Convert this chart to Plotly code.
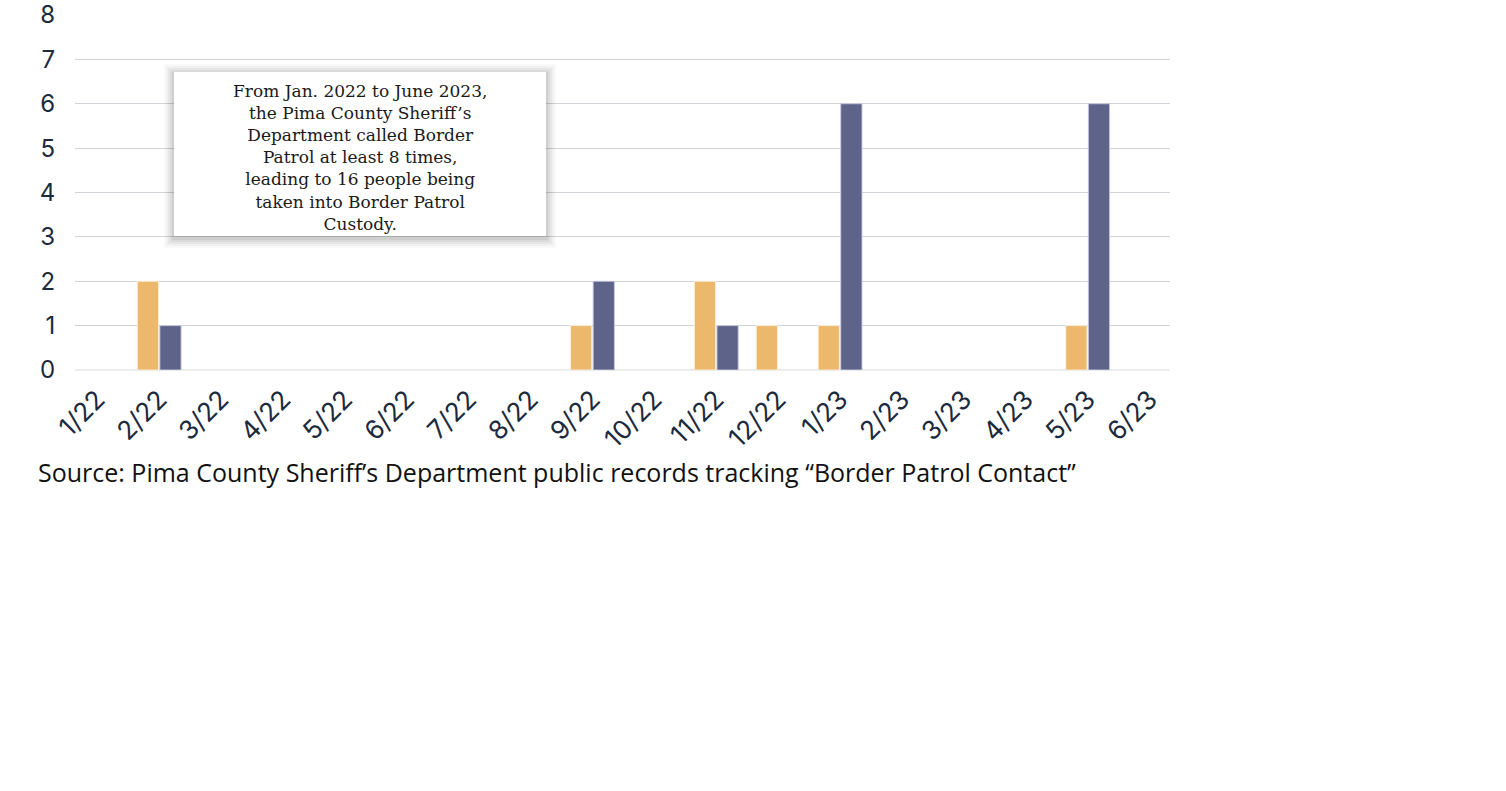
import plotly.graph_objects as go

months = ["1/22", "2/22", "3/22", "4/22", "5/22", "6/22", "7/22", "8/22", "9/22",
          "10/22", "11/22", "12/22", "1/23", "2/23", "3/23", "4/23", "5/23", "6/23"]
calls = [None, 2, None, None, None, None, None, None, 1,
         None, 2, 1, 1, None, None, None, 1, None]
people = [None, 1, None, None, None, None, None, None, 2,
          None, 1, None, 6, None, None, None, 6, None]
y_ticks = [0, 1, 2, 3, 4, 5, 6, 7, 8]

note_lines = [
    "From Jan. 2022 to June 2023,",
    "the Pima County Sheriff’s",
    "Department called Border",
    "Patrol at least 8 times,",
    "leading to 16 people being",
    "taken into Border Patrol",
    "Custody.",
]
source_text = "Source: Pima County Sheriff’s Department public records tracking “Border Patrol Contact”"

W, H = 1506, 791
L, R, T, B = 75, 336, 15, 421
pw, ph = W - L - R, H - T - B


def px_x(x):
    return (x - L) / pw


def px_y(y):
    return 1 - (y - T) / ph


fig = go.Figure()
fig.add_trace(go.Bar(x=months, y=calls, name="Calls",
                     marker=dict(color="#ECB86C", line=dict(color="rgba(255,240,220,0.9)", width=1))))
fig.add_trace(go.Bar(x=months, y=people, name="People",
                     marker=dict(color="#5E6389", line=dict(color="rgba(200,200,225,0.9)", width=1))))

# annotation box with soft shadow
bx0, bx1, by0, by1 = 174, 546, 72, 236
for i, a in enumerate([0.025, 0.03, 0.04, 0.05, 0.06]):
    d = 10 - 2 * i
    fig.add_shape(type="rect", xref="paper", yref="paper",
                  x0=px_x(bx0 - d), x1=px_x(bx1 + d), y0=px_y(by1 + d + 2), y1=px_y(by0 - d + 2),
                  fillcolor=f"rgba(0,0,0,{a})", line=dict(width=0), layer="above")
fig.add_shape(type="rect", xref="paper", yref="paper",
              x0=px_x(bx0), x1=px_x(bx1), y0=px_y(by1), y1=px_y(by0),
              fillcolor="white", line=dict(width=0), layer="above")

cx = (bx0 + bx1) / 2
fig.add_annotation(xref="paper", yref="paper", x=px_x(cx), y=px_y(157),
                   text="<br>".join(note_lines), showarrow=False, align="center",
                   xanchor="center", yanchor="middle",
                   font=dict(family="DejaVu Serif", size=17, color="#1a1a1a"))

fig.add_annotation(xref="paper", yref="paper", x=px_x(36), y=px_y(472),
                   text=source_text, showarrow=False, xanchor="left", yanchor="middle",
                   font=dict(family="Open Sans", size=25, color="#111111"))

fig.update_layout(
    width=W, height=H, autosize=False,
    margin=dict(l=L, r=R, t=T, b=B, pad=0),
    paper_bgcolor="white", plot_bgcolor="white",
    barmode="group", bargap=0.27, bargroupgap=0.06,
    showlegend=False,
    font=dict(family="Inter", color="#1b2a3c"),
)
fig.update_xaxes(type="category", range=[-0.36, 17.33], tickangle=-45, automargin=False,
                 tickfont=dict(family="Inter", size=26, color="#1b2a3c"),
                 showgrid=False, showline=False, ticks="outside", ticklen=3,
                 tickcolor="rgba(0,0,0,0)")
fig.update_yaxes(range=[0, 8], tickvals=y_ticks, automargin=False,
                 tickfont=dict(family="Inter", size=24, color="#1b2a3c"),
                 showgrid=True, gridcolor="#d0d3d8", gridwidth=1,
                 zeroline=True, zerolinecolor="#ececec", zerolinewidth=2,
                 ticks="outside", ticklen=14, tickcolor="rgba(0,0,0,0)")

fig.write_html("out.html")
